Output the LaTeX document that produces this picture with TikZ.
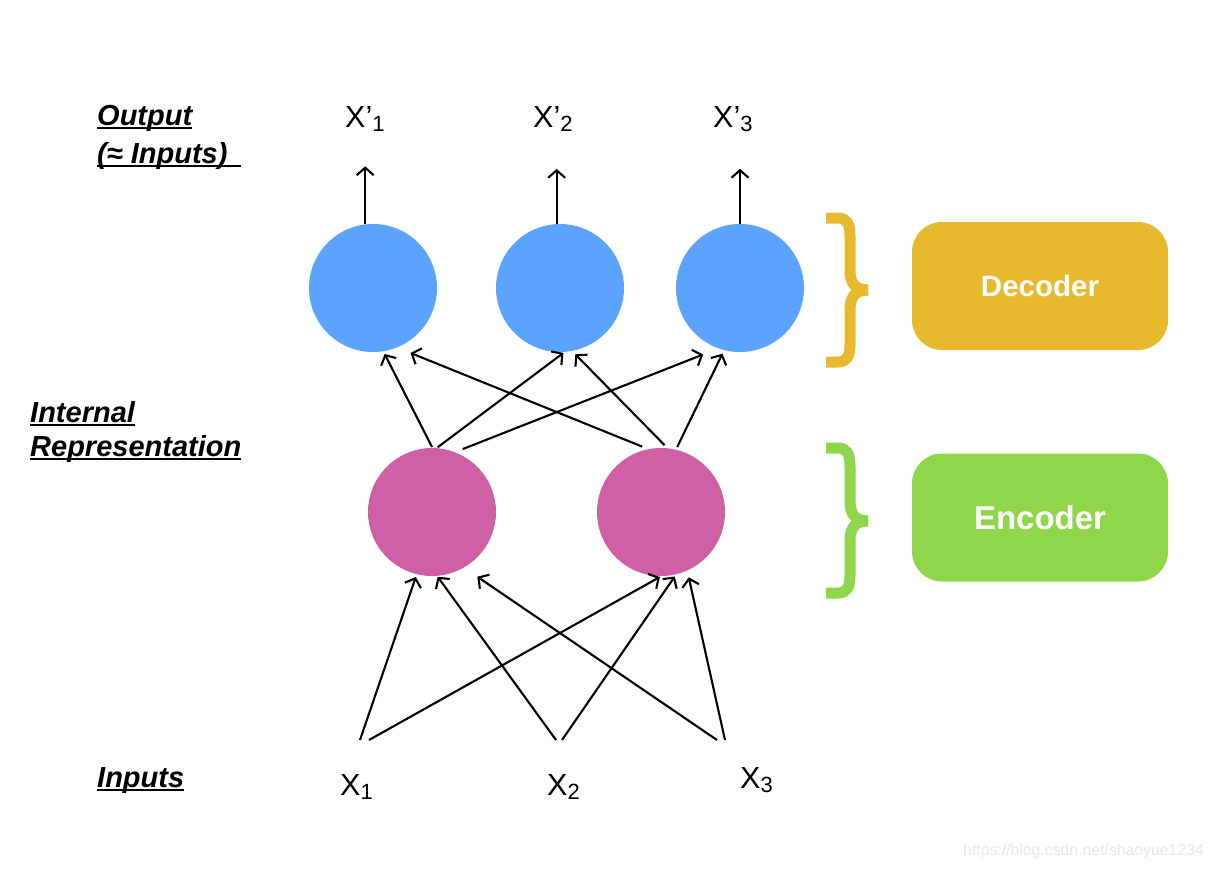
\documentclass[tikz,border=0pt]{standalone}
\usepackage{fontspec}
\setmainfont{Liberation Sans}
\usetikzlibrary{arrows.meta,calc}
\definecolor{nblue}{RGB}{91,163,252}
\definecolor{npink}{RGB}{208,96,165}
\definecolor{dcol}{RGB}{231,185,45}
\definecolor{ecol}{RGB}{143,214,74}
\definecolor{wmark}{RGB}{232,232,232}
\newcommand\ulx[2][0pt]{\sbox0{#2\hspace{#1}}\rlap{\rule[-4pt]{\wd0}{2pt}}\usebox0}
\newcommand\sbx[1]{\raisebox{-4pt}{\fontsize{22}{22}\selectfont #1}}
\begin{document}
\begin{tikzpicture}[x=1pt,y=-1pt,
  circ/.style={circle, minimum size=128pt, inner sep=0pt},
  arr/.style={line width=2.1pt, -{Straight Barb[length=7.5pt,width=17pt]}},
  lbl/.style={inner sep=0pt, anchor=base west, font=\fontsize{30.5}{36}\selectfont},
  side/.style={inner sep=0pt, anchor=base west, font=\fontsize{29}{34}\selectfont\bfseries\itshape},
  box/.style={rounded corners=30pt, minimum width=256pt, minimum height=128pt, inner sep=0pt, text=white},
  bracestroke/.style={line width=11pt, line cap=butt, line join=round}]
\useasboundingbox (0,0) rectangle (1214,870);
\fill[white] (0,0) rectangle (1214,870);

% left labels
\node[side] (lout) at (97,125) {\ulx{Output}};
\node[side] (lapp) at (97,163) {\ulx[14pt]{(≈ Inputs)}};
\node[side] (lint) at (30,422) {\ulx{Internal}};
\node[side] (lrep) at (30,456) {\ulx{Representation}};
\node[side] (linp) at (97,787) {\ulx{Inputs}};

% neurons
\node[circ, fill=nblue] (b1) at (373,288) {};
\node[circ, fill=nblue] (b2) at (560,288) {};
\node[circ, fill=nblue] (b3) at (740,288) {};
\node[circ, fill=npink] (p1) at (432,512) {};
\node[circ, fill=npink] (p2) at (661,512) {};

% output labels
\node[lbl] (o1) at (345,127) {X’\sbx{1}};
\node[lbl] (o2) at (533,127) {X’\sbx{2}};
\node[lbl] (o3) at (713,127) {X’\sbx{3}};

% input labels
\node[lbl] (i1) at (340,795) {X\sbx{1}};
\node[lbl] (i2) at (547,795) {X\sbx{2}};
\node[lbl] (i3) at (740,788) {X\sbx{3}};

% output arrows
\draw[arr] (b1.97) -- ++(0,-58);
\draw[arr] (b2.93) -- ++(0,-55);
\draw[arr] (b3.90) -- ++(0,-55);

% input tails
\coordinate (t1a) at (360,740);
\coordinate (t1b) at (369,740);
\coordinate (t2a) at (556,740);
\coordinate (t2b) at (562,740);
\coordinate (t3a) at (717,740);
\coordinate (t3b) at (725,740);

% inputs -> hidden
\draw[arr] (t1a) -- ($(p1)+(-104:67pt)$);
\draw[arr] (t1b) -- ($(p2)+(-91:65pt)$);
\draw[arr] (t2a) -- ($(p1)+(-85:65pt)$);
\draw[arr] (t2b) -- ($(p2)+(-78:66pt)$);
\draw[arr] (t3a) -- ($(p1)+(-55:79pt)$);
\draw[arr] (t3b) -- ($(p2)+(-67:71pt)$);

% hidden -> outputs
\draw[arr] ($(p1)+(90:65pt)$) -- ($(b1)+(-80:67pt)$);
\draw[arr] ($(p1)+(85:65pt)$) -- ($(b2)+(-87:65pt)$);
\draw[arr] ($(p1)+(64:70pt)$) -- ($(b3)+(-119:76pt)$);
\draw[arr] ($(p2)+(106:68pt)$) -- ($(b1)+(-60:75pt)$);
\draw[arr] ($(p2)+(87:67pt)$) -- ($(b2)+(-77:68pt)$);
\draw[arr] ($(p2)+(76:67pt)$) -- ($(b3)+(-105:68pt)$);

% braces (each as two halves meeting at a flat tip)
\draw[bracestroke, dcol] (826,218) -- (838,218) .. controls (847,218) and (850,224) .. (850,236)
  -- (850,270) .. controls (850,283) and (855,290) .. (868,290);
\draw[bracestroke, dcol] (868,290) .. controls (855,290) and (850,297) .. (850,310)
  -- (850,344) .. controls (850,356) and (847,362) .. (838,362) -- (826,362);
\draw[bracestroke, ecol] (826,448) -- (838,448) .. controls (847,448) and (850,454) .. (850,466)
  -- (850,501) .. controls (850,514) and (855,521) .. (868,521);
\draw[bracestroke, ecol] (868,521) .. controls (855,521) and (850,528) .. (850,541)
  -- (850,575) .. controls (850,587) and (847,593) .. (838,593) -- (826,593);

% boxes
\node[box, fill=dcol, font=\fontsize{29.5}{34}\selectfont\bfseries] (dec) at (1040,286) {Decoder};
\node[box, fill=ecol, font=\fontsize{33}{38}\selectfont\bfseries] (enc) at (1040,517.5) {Encoder};

% watermark
\node[inner sep=0pt, anchor=base west, text=wmark, font=\fontsize{15.8}{18}\selectfont] (wm) at (963,855) {https://blog.csdn.net/shaoyue1234};
\end{tikzpicture}
\end{document}
